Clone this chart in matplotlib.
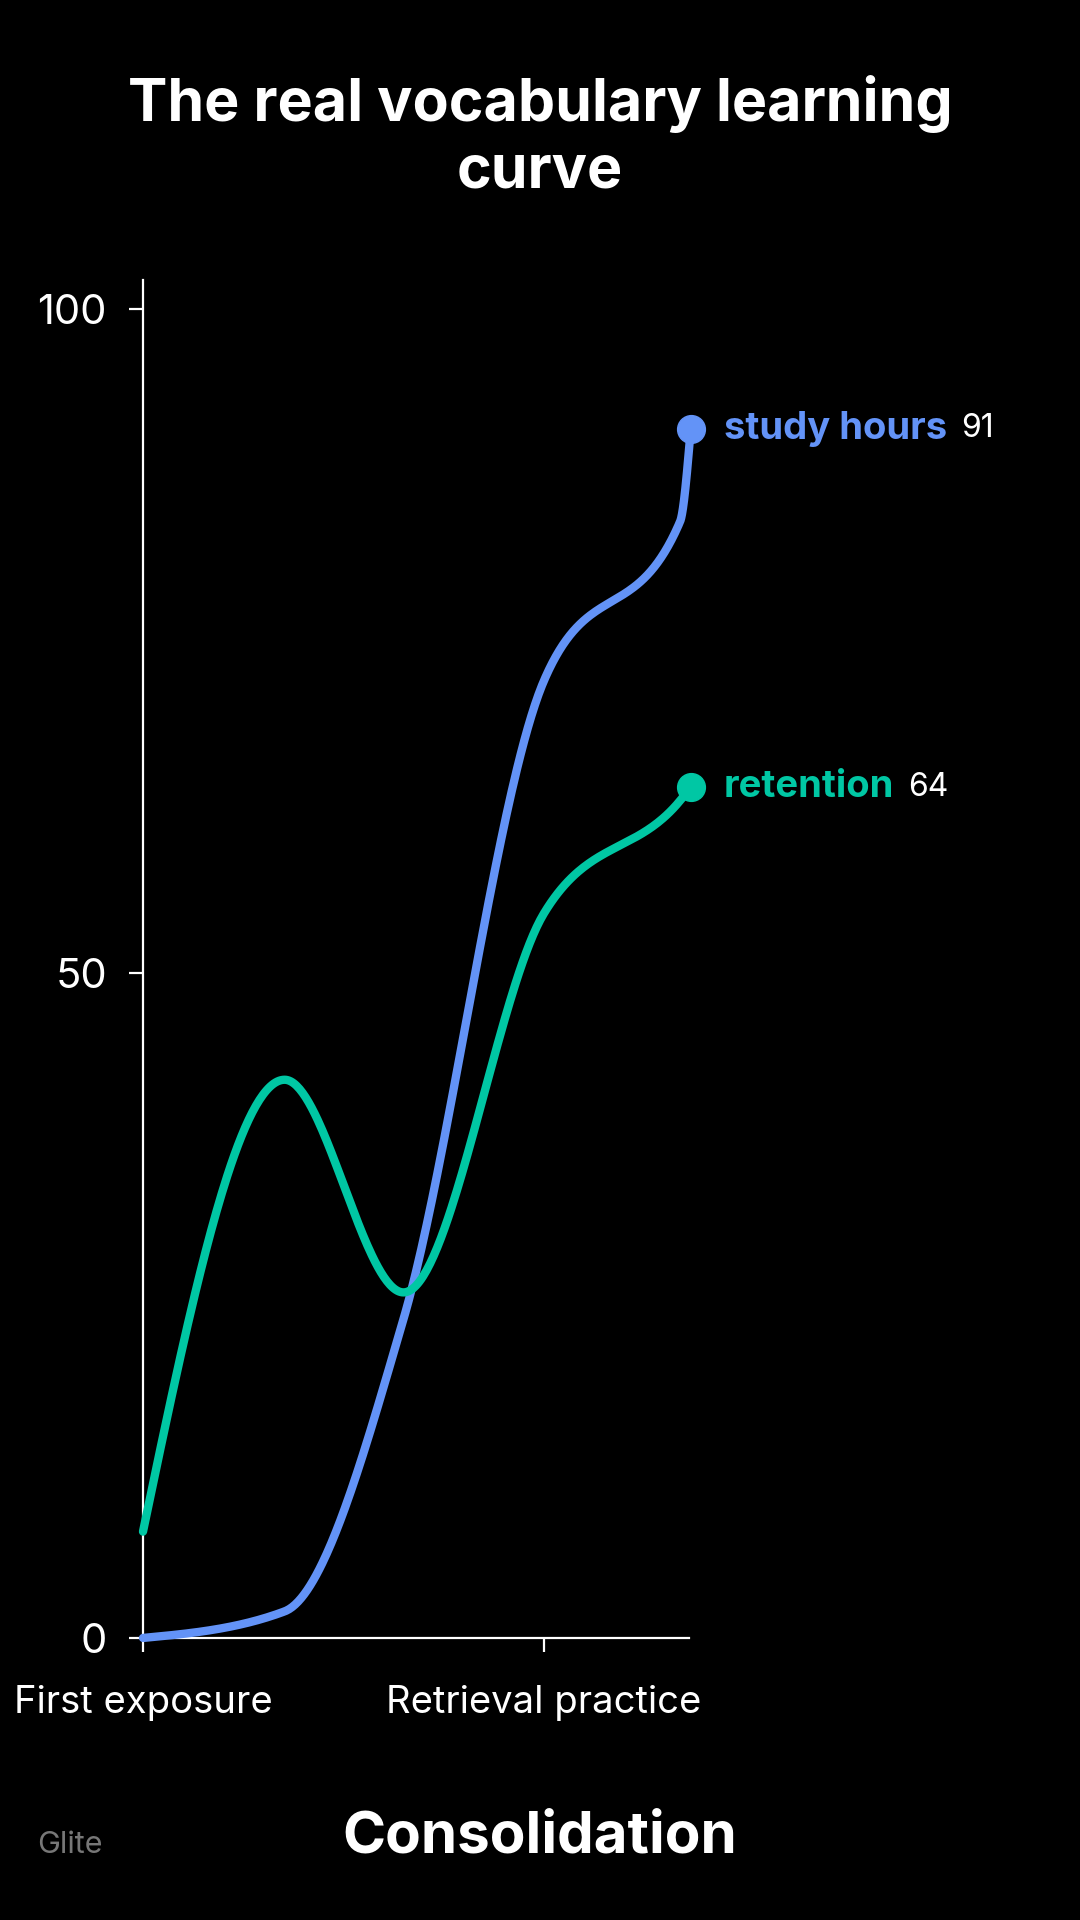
import numpy as np
import matplotlib.pyplot as plt

plt.rcParams['font.family'] = ['Inter', 'DejaVu Sans']

# data
stage_pos = [0, 1.06, 1.95, 3, 4.02, 4.1]
study_hours = [0, 2, 24, 72, 84, 91]
retention = [8, 42, 26, 54.5, 63, 64]
tick_pos = [0, 3]
tick_labels = ['First exposure', 'Retrieval practice']
y_ticks = [0, 50, 100]

BLUE = '#6393F7'
GREEN = '#00C7A4'
BG = '#000000'


def monotone_x(x, y, n=80):
    # same idea as d3.curveMonotoneX
    x = np.asarray(x, float)
    y = np.asarray(y, float)
    h = np.diff(x)
    s = np.diff(y) / h
    t = np.zeros_like(y)
    for i in range(1, len(x) - 1):
        p = (s[i - 1] * h[i] + s[i] * h[i - 1]) / (h[i - 1] + h[i])
        sg = (1 if s[i - 1] >= 0 else -1) + (1 if s[i] >= 0 else -1)
        t[i] = sg * min(abs(s[i - 1]), abs(s[i]), 0.5 * abs(p))
    t[0] = (3 * s[0] - t[1]) / 2
    t[-1] = (3 * s[-1] - t[-2]) / 2
    xs, ys = [], []
    u = np.linspace(0, 1, n)
    h00 = 2 * u**3 - 3 * u**2 + 1
    h10 = u**3 - 2 * u**2 + u
    h01 = -2 * u**3 + 3 * u**2
    h11 = u**3 - u**2
    for i in range(len(h)):
        xs.append(x[i] + u * h[i])
        ys.append(h00 * y[i] + h10 * h[i] * t[i] + h01 * y[i + 1] + h11 * h[i] * t[i + 1])
    return np.concatenate(xs), np.concatenate(ys)


fig = plt.figure(figsize=(10.8, 19.2), dpi=100, facecolor=BG)
ax = fig.add_axes([0.1324, 0.1469, 0.5056, 0.7071])
ax.set_facecolor(BG)

for vals, col, name in [(study_hours, BLUE, 'study hours'), (retention, GREEN, 'retention')]:
    cx, cy = monotone_x(stage_pos, vals)
    ax.plot(cx, cy, color=col, lw=6, solid_capstyle='round', clip_on=False, zorder=3)
    ax.plot(stage_pos[-1], vals[-1], 'o', color=col, ms=20, clip_on=False, zorder=4)
    lbl = ax.annotate(name, xy=(stage_pos[-1], vals[-1]), xytext=(24, 0),
                      textcoords='offset points', va='center', ha='left',
                      color=col, fontsize=27.5, fontweight='bold', annotation_clip=False)
    ax.annotate(f'{vals[-1]:g}', xy=(1, 0.5), xycoords=lbl, xytext=(10, 0),
                textcoords='offset points', va='center', ha='left',
                color='white', fontsize=23, annotation_clip=False)

ax.set_xlim(0, 4.087)
ax.set_ylim(0, 102.15)
ax.set_xticks(tick_pos)
ax.set_xticklabels(tick_labels)
ax.set_yticks(y_ticks)

for side in ['top', 'right']:
    ax.spines[side].set_visible(False)
for side in ['left', 'bottom']:
    ax.spines[side].set_color('white')
    ax.spines[side].set_linewidth(1.6)

ax.tick_params(axis='both', colors='white', labelsize=27.5, width=1.6, length=10)
ax.tick_params(axis='x', pad=24)
ax.tick_params(axis='y', pad=16, labelsize=30)

fig.text(0.5, 0.9285, 'The real vocabulary learning\ncurve', ha='center', va='center',
         color='white', fontsize=42.5, fontweight='bold', linespacing=1.27)
fig.text(0.5, 0.0432, 'Consolidation', ha='center', va='center',
         color='white', fontsize=42, fontweight='bold')
fig.text(0.034, 0.039, 'Glite', ha='left', va='center', color='#777777', fontsize=22)

fig.savefig('out.png', dpi=100, facecolor=BG)
